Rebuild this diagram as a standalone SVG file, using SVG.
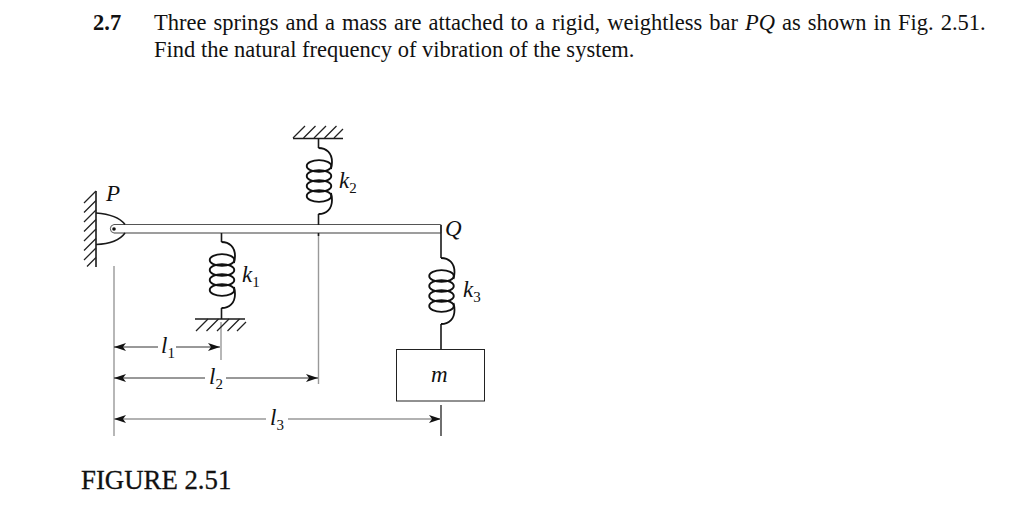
<svg xmlns="http://www.w3.org/2000/svg" width="1024" height="510" viewBox="0 0 1024 510">
<style>
text{font-family:"Liberation Serif","Times New Roman",serif;fill:#111}
.body{font-size:22.500px}
.i{font-style:italic}
.lab{font-size:23px;font-style:italic}
.sub{font-size:15px}
.ln{fill:none;stroke:#1a1a1a;stroke-width:1.600}
.th{fill:none;stroke:#222;stroke-width:1.300}
.gr{fill:none;stroke:#999;stroke-width:1.400}
.coil{fill:none;stroke:#111;stroke-width:1.800}
.dim{fill:none;stroke:#333;stroke-width:1}
</style>
<defs>
<marker id="a" viewBox="0 0 12 8" markerWidth="12" markerHeight="8" refX="12" refY="4" orient="auto-start-reverse" markerUnits="userSpaceOnUse"><path d="M0 0L12 4L0 8L3 4Z" fill="#111"/></marker>
<g id="coil"><path class="coil" d="M0 0C8 0 13.500 5 13.500 14C13.500 17 13 19 12.500 21M12.500 45C13 47 13.500 49 13.500 52C13.500 61 8 66 0 66"/><ellipse class="coil" cx="0.500" cy="18" rx="12.300" ry="5.800"/><ellipse class="coil" cx="0.500" cy="28" rx="12.300" ry="5.800"/><ellipse class="coil" cx="0.500" cy="38" rx="12.300" ry="5.800"/><ellipse class="coil" cx="0.500" cy="48" rx="12.300" ry="5.800"/></g>
<path id="hatch" d="M0 12L12 0M10.500 12L22.500 0M21 12L33 0M31.500 12L43.500 0M41 12L50 3"/>
</defs>
<g id="problem">
<text class="body" x="93" y="30" font-weight="bold">2.7</text>
<text class="body" x="154" y="30" word-spacing="1.400">Three springs and a mass are attached to a rigid, weightless bar <tspan class="i">PQ</tspan> as shown in Fig. 2.51.</text>
<text class="body" x="154" y="57">Find the natural frequency of vibration of the system.</text>
</g>
<g id="connectors">
<path class="gr" d="M114 266V436M221 322V360M318.500 233V384"/>
<path class="th" d="M441 405V436"/>
<path class="dim" d="M176 347H220" marker-end="url(#a)"/>
<path class="dim" d="M158 347H114" marker-end="url(#a)"/>
<path class="dim" d="M226 378H318" marker-end="url(#a)"/>
<path class="dim" d="M205 378H114" marker-end="url(#a)"/>
<path class="gr" d="M266 419H114M288 419H441"/>
<path d="M126 415L114 419L126 423L123 419ZM429 415L441 419L429 423L432 419Z" fill="#111"/>
</g>
<g id="bar-PQ">
<path fill="#fff" stroke="#555" stroke-width="1" d="M441 224.500H114A4.300 4.300 0 0 0 114 233H441"/>
<path class="gr" d="M441 224.500V233M114 233H441"/>
<text class="lab" x="445" y="236">Q</text>
</g>
<g id="wall-P">
<path class="ln" d="M96 191V267"/>
<path class="th" d="M96 191L84 203M96 200.500L84 212.500M96 210L84 222M96 219.500L84 231.500M96 229L84 241M96 238.500L84 250.500M96 248L84 260M96 257.500L87 266.500"/>
<path class="ln" d="M96 213C110 214 120 218 125 224.500M96 244.500C110 244 120 240 125 233"/>
<circle cx="114" cy="229" r="1.800" fill="#111"/>
<text class="lab" x="106" y="201">P</text>
</g>
<g id="spring-k1">
<path class="ln" d="M221.500 233V242M221.500 308V319"/>
<use href="#coil" x="221.500" y="242"/>
<path class="ln" d="M195 319H245"/>
<use href="#hatch" x="196" y="319" class="th"/>
<text class="lab" x="242" y="282">k<tspan class="sub" dy="5" font-style="normal">1</tspan></text>
</g>
<g id="spring-k2">
<path class="ln" d="M318.500 139V148M318.500 214V225M318.500 233V236"/>
<use href="#coil" x="318.500" y="148"/>
<path class="ln" d="M293 138.500H343"/>
<use href="#hatch" x="293" y="126" class="th"/>
<text class="lab" x="339" y="188">k<tspan class="sub" dy="5" font-style="normal">2</tspan></text>
</g>
<g id="spring-k3">
<path class="ln" d="M441 225V258M441 324V349"/>
<use href="#coil" x="441" y="258"/>
<text class="lab" x="463" y="297">k<tspan class="sub" dy="5" font-style="normal">3</tspan></text>
</g>
<g id="mass-m">
<rect x="396.500" y="349.500" width="88" height="51.500" fill="#fff" stroke="#222" stroke-width="1"/>
<text class="lab" x="431" y="382">m</text>
</g>
<g id="dim-labels">
<text class="lab" x="161" y="353">l<tspan class="sub" dy="5" font-style="normal">1</tspan></text>
<text class="lab" x="209" y="384">l<tspan class="sub" dy="5" font-style="normal">2</tspan></text>
<text class="lab" x="270" y="425">l<tspan class="sub" dy="5" font-style="normal">3</tspan></text>
</g>
<g id="caption"><text x="81" y="489" font-size="26.800" stroke="#111" stroke-width="0.300">FIGURE 2.51</text></g>
</svg>
